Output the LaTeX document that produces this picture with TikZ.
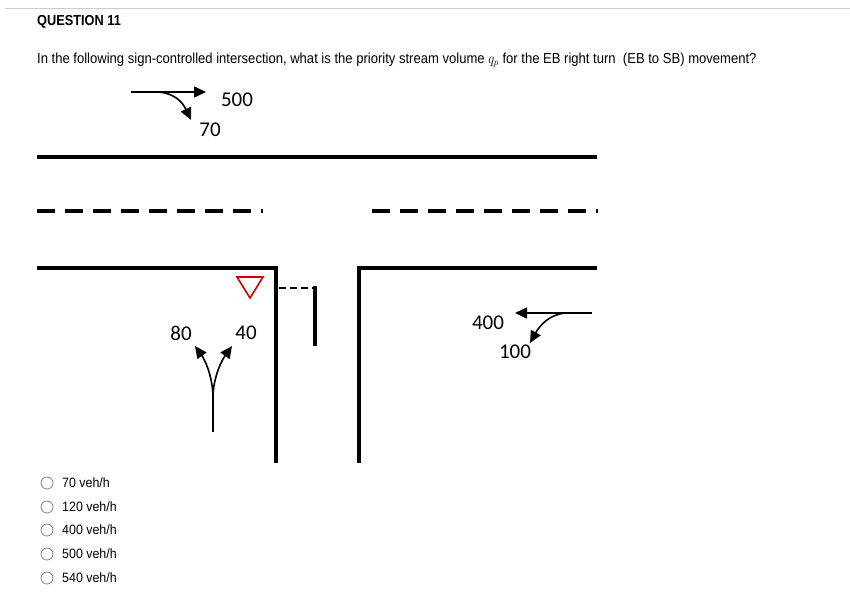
\documentclass[tikz,border=0pt]{standalone}
\usepackage{fontspec}
\setmainfont{Liberation Sans}
\newfontfamily\volfont{Carlito}
\usetikzlibrary{arrows.meta}
\begin{document}
\begin{tikzpicture}[x=1pt,y=-1pt,
  road/.style={line width=4.5pt},
  flow/.style={line width=1.6pt,-{Triangle[length=12pt,width=11pt]}},
  vol/.style={font=\volfont\fontsize{21}{21}\selectfont,inner sep=0pt},
  opt/.style={anchor=west,font=\fontsize{13.5}{15}\selectfont,inner sep=0pt},
  radio/.style={draw=gray,line width=0.8pt}]
\useasboundingbox (0,0) rectangle (850,606);
\draw[gray!40,line width=1pt] (5,8) -- (850,8);
\node[anchor=west,inner sep=0pt,font=\bfseries\fontsize{14.5}{16}\selectfont] (q) at (37,22) {\scalebox{0.88}[1]{QUESTION 11}};
\node[anchor=west,inner sep=0pt,font=\fontsize{14.5}{16}\selectfont] (txt) at (37,60) {\scalebox{0.9}[1]{In the following sign-controlled intersection, what is the priority stream volume $q_p$ for the EB right turn\ \ (EB to SB) movement?}};
% top arrows
\coordinate (a0) at (131,92);
\coordinate (a1) at (206,92);
\coordinate (a2) at (191,120);
\draw[flow] (a0) -- (a1);
\draw[flow] (158,92) .. controls (175,93) and (183,103) .. (a2);
\node[vol] (v500) at (237,100) {500};
\node[vol] (v70) at (210,130) {70};
% roads
\draw[road] (37,157) -- (597,157);
\draw[road,dash pattern=on 18pt off 10pt] (37,211) -- (263,211);
\draw[road,dash pattern=on 18pt off 10pt] (372,211) -- (598,211);
\draw[road] (37,268) -- (276,268) -- (276,463);
\draw[road] (597,268) -- (359,268) -- (359,463);
% yield sign
\draw[red!80!black,line width=1.6pt] (237,277) -- (263,277) -- (250,298) -- cycle;
\draw[line width=2.5pt,dash pattern=on 7pt off 4pt] (279,288) -- (315,288);
\draw[line width=4pt] (315,286) -- (315,346);
% approach arrows
\draw[line width=1.6pt] (213,432) -- (213,392);
\draw[flow] (213,395) .. controls (212,375) and (205,360) .. (195,346);
\draw[flow] (213,395) .. controls (214,375) and (222,360) .. (232,346);
\node[vol] (v80) at (181,333) {80};
\node[vol] (v40) at (246,333) {40};
% right arrows
\draw[flow] (592,313) -- (515,313);
\draw[flow] (566,313) .. controls (550,314) and (540,325) .. (530,343);
\node[vol] (v400) at (488,323) {400};
\node[vol] (v100) at (515,352) {100};
% options
\foreach \y/\t in {483/{70 veh/h},507/{120 veh/h},530/{400 veh/h},554/{500 veh/h},578/{540 veh/h}}{
  \draw[radio] (47,\y) circle (6);
  \node[opt] at (62,\y) {\scalebox{0.92}[1]{\t}};
}
\end{tikzpicture}
\end{document}
